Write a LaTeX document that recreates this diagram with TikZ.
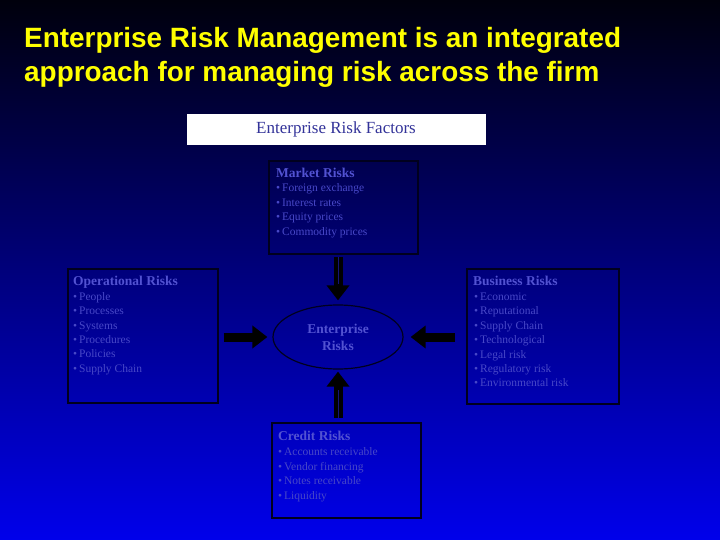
\documentclass[tikz,border=0pt]{standalone}
\usepackage{fontspec}
\setmainfont{Liberation Serif}
\newfontfamily\titlefont{Liberation Sans}
\usetikzlibrary{shapes.geometric,arrows.meta,calc}
\definecolor{bgtop}{RGB}{0,0,12}
\definecolor{bgmid}{RGB}{0,0,170}
\definecolor{bgbot}{RGB}{0,0,235}
\definecolor{ttl}{RGB}{255,255,0}
\definecolor{hdtxt}{RGB}{51,51,153}
\definecolor{boxtxt}{RGB}{72,72,200}
\definecolor{boxhd}{RGB}{82,82,210}
\definecolor{boxline}{RGB}{0,0,30}
\definecolor{innerln}{RGB}{20,20,120}
\begin{document}
\begin{tikzpicture}[x=1pt,y=-1pt,
  riskbox/.style={draw=boxline, line width=1.6pt, rectangle, anchor=north west, inner sep=0pt},
  boxhead/.style={anchor=base west, inner sep=0pt, text=boxhd, font=\fontsize{13.5}{15}\selectfont\bfseries},
  boxitem/.style={anchor=base west, inner sep=0pt, text=boxtxt, font=\fontsize{11.5}{13}\selectfont},
  bigarrow/.style={line width=9pt, -{Triangle[width=22pt,length=15pt]}, black},
  innerline/.style={innerln, line width=0.8pt}]
\useasboundingbox (0,0) rectangle (720,540);
\shade[top color=bgtop, middle color=bgmid, bottom color=bgbot] (0,0) rectangle (720,540);

% title
\node[anchor=base west, inner sep=0pt, text=ttl, font=\titlefont\fontsize{27.9}{30}\selectfont\bfseries] (t1) at (24,48) {Enterprise Risk Management is an integrated};
\node[anchor=base west, inner sep=0pt, text=ttl, font=\titlefont\fontsize{27.9}{30}\selectfont\bfseries] (t2) at (24,82) {approach for managing risk across the firm};

% header box
\node[fill=white, rectangle, anchor=north west, minimum width=299pt, minimum height=31pt, inner sep=0pt] (hdr) at (187,114) {};
\node[text=hdtxt, font=\fontsize{17}{19}\selectfont, inner sep=0pt] (hdrt) at (336,129) {Enterprise Risk Factors};

% market risks
\node[riskbox, minimum width=149pt, minimum height=93pt] (mk) at (268,160) {};
\node[boxhead] (mkh) at (276,177.5) {Market Risks};
\foreach \t [count=\i from 0] in {Foreign exchange, Interest rates, Equity prices, Commodity prices}
  \node[boxitem] (mk\i) at (276,191.5+14.6*\i) {\textbullet\,\t};

% operational risks
\node[riskbox, minimum width=150pt, minimum height=134pt] (op) at (67,268) {};
\node[boxhead] (oph) at (73,285.5) {Operational Risks};
\foreach \t [count=\i from 0] in {People, Processes, Systems, Procedures, Policies, Supply Chain}
  \node[boxitem] (op\i) at (73,300.5+14.3*\i) {\textbullet\,\t};

% business risks
\node[riskbox, minimum width=152pt, minimum height=135pt] (bu) at (466,268) {};
\node[boxhead] (buh) at (473,285.5) {Business Risks};
\foreach \t [count=\i from 0] in {Economic, Reputational, Supply Chain, Technological, Legal risk, Regulatory risk, Environmental risk}
  \node[boxitem] (bu\i) at (474,300.5+14.4*\i) {\textbullet\,\t};

% credit risks
\node[riskbox, minimum width=149pt, minimum height=95pt] (cr) at (271,422) {};
\node[boxhead] (crh) at (278,440.5) {Credit Risks};
\foreach \t [count=\i from 0] in {Accounts receivable, Vendor financing, Notes receivable, Liquidity}
  \node[boxitem] (cr\i) at (278,455.5+14.5*\i) {\textbullet\,\t};

% centre ellipse
\node[ellipse, draw=boxline, line width=1.2pt, minimum width=130pt, minimum height=64pt, inner sep=0pt,
      align=center, text=boxhd, font=\fontsize{13.5}{17}\selectfont\bfseries] (er) at (338,337) {Enterprise\\Risks};

% arrows
\draw[bigarrow, shorten <=2pt, shorten >=4pt] (er.north |- mk.south) -- (er.north);
\draw[innerline] ($(er.north |- mk.south)+(0,2)$) -- ($(er.north)+(0,-20)$);
\draw[bigarrow, shorten <=4pt, shorten >=2pt] (er.south |- cr.north) -- (er.south);
\draw[innerline] ($(er.south |- cr.north)+(0,-4)$) -- ($(er.south)+(0,20)$);
\draw[bigarrow, shorten <=5pt, shorten >=5pt] (op.east |- er.west) -- (er.west);
\draw[bigarrow, shorten <=11pt, shorten >=7pt] (bu.west |- er.east) -- (er.east);
\end{tikzpicture}
\end{document}
